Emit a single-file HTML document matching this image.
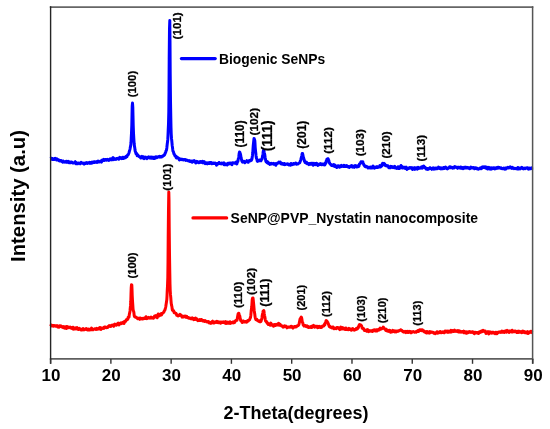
<!DOCTYPE html>
<html><head><meta charset="utf-8"><style>html,body{margin:0;padding:0;background:#fff;overflow:hidden}svg{display:block;filter:blur(0.3px)}</style></head>
<body><svg width="550" height="429" viewBox="0 0 550 429">
<rect width="550" height="429" fill="#fff"/>
<path d="M50.5 158.6L50.8 158.7L51.0 158.4L51.2 158.2L51.5 158.2L51.8 158.3L52.0 158.9L52.2 159.4L52.5 158.9L52.8 158.8L53.0 159.2L53.2 159.4L53.5 159.1L53.8 158.9L54.0 159.2L54.2 159.4L54.5 158.9L54.8 158.6L55.0 158.4L55.2 158.3L55.5 158.6L55.8 159.0L56.0 159.3L56.2 159.7L56.5 160.0L56.8 159.4L57.0 158.8L57.2 159.3L57.5 160.0L57.8 159.9L58.0 159.5L58.2 159.6L58.5 159.7L58.8 160.1L59.0 160.6L59.2 160.4L59.5 160.6L59.8 160.9L60.0 160.6L60.2 160.6L60.5 160.8L60.8 160.7L61.0 160.5L61.2 161.0L61.5 161.3L61.8 160.9L62.0 161.2L62.2 161.3L62.5 161.4L62.8 162.1L63.0 161.8L63.2 161.0L63.5 161.3L63.8 161.6L64.0 161.6L64.2 161.7L64.5 161.8L64.8 162.1L65.0 162.2L65.2 161.7L65.5 161.5L65.8 161.6L66.0 161.5L66.2 161.2L66.5 161.3L66.8 161.8L67.0 162.4L67.2 162.3L67.5 161.5L67.8 161.5L68.0 161.7L68.2 161.3L68.5 161.5L68.8 162.2L69.0 162.7L69.2 162.6L69.5 162.1L69.8 162.0L70.0 162.4L70.2 162.8L70.5 162.4L70.8 162.2L71.0 162.4L71.2 162.4L71.5 162.1L71.8 162.0L72.0 162.2L72.2 162.6L72.5 163.1L72.8 163.1L73.0 162.9L73.2 162.9L73.5 162.9L73.8 163.1L74.0 163.1L74.2 162.8L74.5 162.5L74.8 162.4L75.0 161.9L75.2 161.7L75.5 162.3L75.8 162.6L76.0 163.4L76.2 163.8L76.5 163.1L76.8 162.8L77.0 163.2L77.2 163.4L77.5 163.2L77.8 163.3L78.0 163.6L78.2 163.5L78.5 163.0L78.8 163.2L79.0 163.2L79.2 163.1L79.5 163.2L79.8 163.4L80.0 163.7L80.2 163.8L80.5 163.4L80.8 163.2L81.0 162.9L81.2 162.4L81.5 162.7L81.8 163.0L82.0 162.8L82.2 163.0L82.5 163.0L82.8 163.2L83.0 163.4L83.2 163.5L83.5 163.3L83.8 163.0L84.0 163.8L84.2 164.1L84.5 163.5L84.8 163.1L85.0 163.0L85.2 163.1L85.5 163.4L85.8 163.2L86.0 162.9L86.2 162.8L86.5 162.5L86.8 162.8L87.0 163.4L87.2 163.5L87.5 163.5L87.8 163.2L88.0 162.8L88.2 162.7L88.5 162.8L88.8 162.9L89.0 162.9L89.2 162.6L89.5 162.3L89.8 162.8L90.0 163.4L90.2 162.8L90.5 162.5L90.8 163.2L91.0 163.3L91.2 162.6L91.5 162.4L91.8 162.2L92.0 162.1L92.2 162.7L92.5 162.9L92.8 162.5L93.0 162.4L93.2 162.5L93.5 162.4L93.8 162.1L94.0 161.7L94.2 161.9L94.5 162.5L94.8 162.4L95.0 162.2L95.2 162.1L95.5 161.8L95.8 161.9L96.0 162.1L96.2 161.9L96.5 161.7L96.8 162.0L97.0 162.4L97.2 162.3L97.5 161.8L97.8 161.2L98.0 161.1L98.2 161.8L98.5 162.0L98.8 161.6L99.0 161.7L99.2 161.9L99.5 161.9L99.8 161.6L100.0 161.4L100.2 161.3L100.5 161.0L100.8 161.2L101.0 161.5L101.2 161.7L101.5 162.1L101.8 161.6L102.0 160.3L102.2 160.0L102.5 160.5L102.8 160.4L103.0 160.6L103.2 160.6L103.5 159.7L103.8 159.4L104.0 160.2L104.2 160.5L104.5 160.4L104.8 160.2L105.0 159.7L105.2 159.5L105.5 159.7L105.8 159.5L106.0 159.5L106.2 160.0L106.5 160.3L106.8 160.1L107.0 159.6L107.2 159.4L107.5 159.3L107.8 159.4L108.0 159.7L108.2 159.7L108.5 159.9L108.8 160.4L109.0 160.4L109.2 159.7L109.5 159.7L109.8 159.8L110.0 159.3L110.2 158.9L110.5 159.2L110.8 159.7L111.0 159.6L111.2 159.4L111.5 159.6L111.8 159.8L112.0 159.2L112.2 158.3L112.5 158.2L112.8 157.7L113.0 157.5L113.2 158.6L113.5 159.6L113.8 159.2L114.0 158.5L114.2 158.7L114.5 159.4L114.8 159.3L115.0 159.1L115.2 159.0L115.5 159.1L115.8 159.4L116.0 159.3L116.2 158.8L116.5 158.6L116.8 158.6L117.0 158.8L117.2 158.8L117.5 158.4L117.8 158.3L118.0 158.3L118.2 158.4L118.5 159.2L118.8 159.3L119.0 158.7L119.2 158.7L119.5 158.2L119.8 157.4L120.0 157.9L120.2 158.3L120.5 158.0L120.8 157.7L121.0 157.8L121.2 158.2L121.5 158.6L121.8 158.4L122.0 158.3L122.2 158.4L122.5 157.9L122.8 157.2L123.0 157.3L123.2 158.2L123.5 158.5L123.8 158.3L124.0 158.0L124.2 157.7L124.5 157.4L124.8 157.2L125.0 157.1L125.2 157.4L125.5 157.7L125.8 157.4L126.0 156.7L126.2 156.2L126.5 156.3L126.8 156.8L127.0 156.5L127.2 155.8L127.5 155.2L127.8 154.7L128.0 154.8L128.2 154.8L128.5 154.0L128.8 153.3L129.0 152.8L129.2 151.9L129.5 150.8L129.8 149.9L130.0 149.1L130.2 148.0L130.5 146.4L130.8 144.9L131.0 142.7L131.2 138.7L131.5 133.1L131.8 125.4L132.0 115.3L132.2 106.1L132.5 103.1L132.8 107.3L133.0 115.7L133.2 125.1L133.5 133.0L133.8 138.3L134.0 141.3L134.2 144.0L134.5 146.4L134.8 148.0L135.0 149.8L135.2 151.2L135.5 151.8L135.8 152.8L136.0 153.7L136.2 153.6L136.5 153.3L136.8 153.7L137.0 154.7L137.2 155.8L137.5 155.8L137.8 155.2L138.0 155.1L138.2 155.7L138.5 156.1L138.8 156.3L139.0 156.5L139.2 156.7L139.5 156.6L139.8 156.7L140.0 156.9L140.2 157.0L140.5 157.6L140.8 158.0L141.0 157.8L141.2 157.0L141.5 156.7L141.8 156.7L142.0 156.4L142.2 156.6L142.5 157.6L142.8 157.9L143.0 157.2L143.2 156.7L143.5 156.9L143.8 157.3L144.0 158.1L144.2 158.7L144.5 158.0L144.8 157.1L145.0 157.0L145.2 157.4L145.5 157.4L145.8 157.2L146.0 157.3L146.2 157.5L146.5 158.1L146.8 158.6L147.0 158.3L147.2 157.9L147.5 157.8L147.8 157.7L148.0 157.5L148.2 157.3L148.5 156.9L148.8 157.1L149.0 157.7L149.2 157.9L149.5 158.0L149.8 157.9L150.0 157.1L150.2 157.1L150.5 157.7L150.8 157.9L151.0 157.9L151.2 158.1L151.5 157.8L151.8 157.1L152.0 157.3L152.2 157.9L152.5 157.7L152.8 157.3L153.0 158.0L153.2 158.5L153.5 158.3L153.8 157.7L154.0 157.2L154.2 157.6L154.5 158.4L154.8 158.4L155.0 158.1L155.2 157.7L155.5 157.2L155.8 156.8L156.0 157.2L156.2 157.6L156.5 157.4L156.8 157.7L157.0 157.6L157.2 157.0L157.5 156.9L157.8 157.1L158.0 157.1L158.2 156.9L158.5 156.8L158.8 156.7L159.0 156.5L159.2 156.4L159.5 157.0L159.8 157.1L160.0 156.6L160.2 156.5L160.5 156.4L160.8 156.5L161.0 156.8L161.2 157.0L161.5 157.0L161.8 156.6L162.0 156.5L162.2 156.2L162.5 156.1L162.8 156.2L163.0 156.2L163.2 156.1L163.5 155.6L163.8 155.1L164.0 155.1L164.2 155.3L164.5 155.0L164.8 154.3L165.0 153.6L165.2 153.1L165.5 152.8L165.8 151.9L166.0 150.8L166.2 150.7L166.5 150.0L166.8 148.0L167.0 146.1L167.2 144.3L167.5 142.1L167.8 139.4L168.0 135.4L168.2 130.5L168.5 123.8L168.8 112.0L169.0 90.9L169.2 59.3L169.5 28.9L169.8 20.5L170.0 40.8L170.2 73.6L170.5 101.0L170.8 117.9L171.0 127.3L171.2 133.8L171.5 138.4L171.8 141.0L172.0 143.1L172.2 145.4L172.5 147.6L172.8 149.9L173.0 151.2L173.2 151.5L173.5 152.0L173.8 153.4L174.0 154.1L174.2 154.0L174.5 154.7L174.8 155.5L175.0 156.0L175.2 156.0L175.5 156.0L175.8 156.0L176.0 156.7L176.2 157.8L176.5 158.0L176.8 157.5L177.0 157.0L177.2 157.0L177.5 157.6L177.8 158.1L178.0 158.3L178.2 158.2L178.5 158.1L178.8 158.4L179.0 159.0L179.2 159.7L179.5 159.9L179.8 159.2L180.0 158.8L180.2 158.9L180.5 158.9L180.8 158.9L181.0 159.0L181.2 159.2L181.5 159.6L181.8 159.7L182.0 159.7L182.2 159.6L182.5 159.3L182.8 159.3L183.0 159.5L183.2 159.7L183.5 160.0L183.8 159.8L184.0 159.6L184.2 159.6L184.5 159.6L184.8 159.7L185.0 159.6L185.2 159.5L185.5 160.0L185.8 160.5L186.0 160.4L186.2 160.3L186.5 160.1L186.8 160.1L187.0 160.2L187.2 160.4L187.5 160.4L187.8 160.4L188.0 160.7L188.2 160.9L188.5 160.8L188.8 160.9L189.0 160.8L189.2 160.6L189.5 161.0L189.8 161.4L190.0 161.4L190.2 161.3L190.5 161.0L190.8 161.2L191.0 161.6L191.2 161.7L191.5 161.2L191.8 161.0L192.0 161.6L192.2 162.3L192.5 162.2L192.8 161.5L193.0 161.2L193.2 161.7L193.5 161.3L193.8 160.7L194.0 161.1L194.2 161.0L194.5 160.8L194.8 161.5L195.0 162.1L195.2 162.0L195.5 162.2L195.8 163.0L196.0 162.9L196.2 162.2L196.5 161.6L196.8 161.3L197.0 161.6L197.2 162.1L197.5 162.3L197.8 162.4L198.0 162.3L198.2 162.0L198.5 162.1L198.8 162.5L199.0 162.8L199.2 162.8L199.5 162.5L199.8 162.3L200.0 162.1L200.2 161.6L200.5 161.6L200.8 162.2L201.0 162.5L201.2 162.1L201.5 161.7L201.8 161.8L202.0 161.9L202.2 161.5L202.5 161.3L202.8 162.1L203.0 162.9L203.2 162.7L203.5 162.4L203.8 162.6L204.0 162.3L204.2 161.6L204.5 162.1L204.8 163.0L205.0 163.4L205.2 163.7L205.5 163.6L205.8 163.1L206.0 163.1L206.2 163.0L206.5 162.7L206.8 162.9L207.0 163.6L207.2 163.8L207.5 163.2L207.8 162.9L208.0 163.3L208.2 163.5L208.5 163.5L208.8 163.4L209.0 162.9L209.2 162.7L209.5 163.1L209.8 163.5L210.0 163.4L210.2 162.5L210.5 162.5L210.8 163.0L211.0 162.7L211.2 162.6L211.5 163.4L211.8 163.7L212.0 163.4L212.2 163.4L212.5 163.5L212.8 163.6L213.0 163.5L213.2 163.0L213.5 162.9L213.8 163.1L214.0 163.3L214.2 163.6L214.5 163.5L214.8 163.1L215.0 163.2L215.2 163.5L215.5 163.7L215.8 163.3L216.0 163.4L216.2 164.4L216.5 165.1L216.8 164.8L217.0 164.0L217.2 163.9L217.5 164.2L217.8 163.6L218.0 163.2L218.2 163.5L218.5 163.6L218.8 163.0L219.0 162.5L219.2 162.8L219.5 163.4L219.8 163.4L220.0 163.4L220.2 163.8L220.5 163.8L220.8 163.7L221.0 163.6L221.2 163.3L221.5 163.1L221.8 163.4L222.0 163.9L222.2 163.7L222.5 163.3L222.8 163.3L223.0 163.6L223.2 163.6L223.5 163.0L223.8 162.9L224.0 163.8L224.2 164.8L224.5 164.6L224.8 164.0L225.0 164.4L225.2 164.6L225.5 164.0L225.8 163.8L226.0 164.2L226.2 164.3L226.5 164.0L226.8 164.0L227.0 164.7L227.2 164.9L227.5 164.4L227.8 163.7L228.0 163.2L228.2 163.6L228.5 163.9L228.8 164.0L229.0 164.0L229.2 163.4L229.5 163.1L229.8 163.4L230.0 163.5L230.2 163.3L230.5 163.4L230.8 163.0L231.0 163.0L231.2 163.8L231.5 164.3L231.8 164.6L232.0 164.7L232.2 163.7L232.5 162.8L232.8 162.7L233.0 162.9L233.2 163.2L233.5 163.1L233.8 162.8L234.0 162.9L234.2 162.9L234.5 163.2L234.8 163.3L235.0 163.1L235.2 163.0L235.5 162.7L235.8 162.3L236.0 162.1L236.2 162.8L236.5 163.8L236.8 164.0L237.0 163.4L237.2 162.5L237.5 161.8L237.8 161.6L238.0 160.7L238.2 159.3L238.5 158.0L238.8 156.5L239.0 154.9L239.2 153.3L239.5 152.0L239.8 152.1L240.0 153.0L240.2 153.4L240.5 154.3L240.8 156.1L241.0 157.4L241.2 158.2L241.5 159.5L241.8 160.8L242.0 161.3L242.2 161.7L242.5 162.1L242.8 161.8L243.0 161.6L243.2 162.0L243.5 162.0L243.8 161.3L244.0 161.2L244.2 161.8L244.5 162.3L244.8 162.6L245.0 162.3L245.2 161.8L245.5 161.9L245.8 161.8L246.0 161.7L246.2 161.8L246.5 161.2L246.8 160.7L247.0 160.9L247.2 161.0L247.5 161.2L247.8 161.8L248.0 162.2L248.2 162.3L248.5 161.5L248.8 160.7L249.0 160.7L249.2 160.6L249.5 160.7L249.8 161.0L250.0 160.6L250.2 160.2L250.5 160.7L250.8 160.8L251.0 160.6L251.2 160.4L251.5 159.9L251.8 159.4L252.0 158.6L252.2 157.2L252.5 155.2L252.8 152.5L253.0 149.1L253.2 146.1L253.5 143.2L253.8 140.3L254.0 138.6L254.2 138.7L254.5 139.5L254.8 140.7L255.0 143.5L255.2 147.3L255.5 150.6L255.8 153.2L256.0 155.4L256.2 157.1L256.5 158.3L256.8 159.0L257.0 159.8L257.2 161.0L257.5 161.4L257.8 160.6L258.0 160.2L258.2 160.6L258.5 160.9L258.8 160.6L259.0 160.7L259.2 160.8L259.5 160.6L259.8 160.5L260.0 160.4L260.2 159.9L260.5 160.0L260.8 160.6L261.0 160.8L261.2 160.2L261.5 159.4L261.8 159.2L262.0 159.2L262.2 158.1L262.5 156.3L262.8 154.7L263.0 153.4L263.2 151.7L263.5 150.2L263.8 150.3L264.0 151.2L264.2 152.3L264.5 153.5L264.8 154.9L265.0 156.4L265.2 157.7L265.5 159.3L265.8 161.1L266.0 161.5L266.2 161.3L266.5 161.7L266.8 162.4L267.0 162.7L267.2 162.1L267.5 161.7L267.8 162.2L268.0 162.8L268.2 163.2L268.5 163.6L268.8 163.6L269.0 163.3L269.2 163.1L269.5 163.8L269.8 164.4L270.0 164.1L270.2 163.7L270.5 163.9L270.8 164.0L271.0 163.5L271.2 163.4L271.5 163.9L271.8 164.0L272.0 163.7L272.2 163.7L272.5 163.7L272.8 163.8L273.0 163.6L273.2 163.4L273.5 163.8L273.8 164.1L274.0 163.7L274.2 163.8L274.5 163.9L274.8 163.7L275.0 163.6L275.2 163.7L275.5 164.5L275.8 165.3L276.0 164.9L276.2 164.1L276.5 163.8L276.8 163.6L277.0 163.6L277.2 163.4L277.5 162.9L277.8 162.9L278.0 163.1L278.2 163.1L278.5 162.7L278.8 162.2L279.0 162.5L279.2 162.7L279.5 162.7L279.8 162.6L280.0 162.1L280.2 162.0L280.5 163.0L280.8 163.6L281.0 163.5L281.2 163.7L281.5 163.9L281.8 163.6L282.0 163.4L282.2 163.9L282.5 164.1L282.8 163.9L283.0 164.1L283.2 163.8L283.5 163.8L283.8 164.4L284.0 164.1L284.2 163.5L284.5 163.9L284.8 164.7L285.0 164.7L285.2 164.3L285.5 164.4L285.8 164.4L286.0 164.1L286.2 164.2L286.5 164.1L286.8 163.9L287.0 163.9L287.2 164.1L287.5 164.1L287.8 163.9L288.0 164.1L288.2 164.6L288.5 164.6L288.8 164.8L289.0 164.9L289.2 165.1L289.5 165.0L289.8 164.4L290.0 164.2L290.2 164.5L290.5 165.1L290.8 164.8L291.0 163.5L291.2 163.5L291.5 164.3L291.8 164.7L292.0 164.5L292.2 164.3L292.5 164.4L292.8 164.4L293.0 164.4L293.2 164.0L293.5 163.5L293.8 163.6L294.0 163.9L294.2 164.1L294.5 163.9L294.8 163.6L295.0 163.7L295.2 163.5L295.5 163.1L295.8 163.1L296.0 163.6L296.2 164.2L296.5 164.3L296.8 164.1L297.0 164.1L297.2 163.9L297.5 163.7L297.8 164.0L298.0 164.0L298.2 163.5L298.5 163.2L298.8 163.2L299.0 163.0L299.2 162.8L299.5 162.9L299.8 162.6L300.0 162.0L300.2 161.3L300.5 160.8L300.8 159.9L301.0 158.9L301.2 158.1L301.5 156.9L301.8 155.8L302.0 154.6L302.2 153.4L302.5 153.5L302.8 154.5L303.0 155.6L303.2 156.8L303.5 157.6L303.8 158.5L304.0 159.4L304.2 160.3L304.5 161.3L304.8 161.8L305.0 162.1L305.2 162.6L305.5 162.8L305.8 162.2L306.0 162.0L306.2 162.1L306.5 162.2L306.8 163.0L307.0 163.7L307.2 163.6L307.5 163.4L307.8 163.3L308.0 163.4L308.2 163.6L308.5 163.7L308.8 164.3L309.0 164.6L309.2 164.2L309.5 163.6L309.8 163.5L310.0 163.8L310.2 164.0L310.5 164.1L310.8 164.3L311.0 164.1L311.2 163.3L311.5 163.5L311.8 164.1L312.0 163.7L312.2 163.4L312.5 163.3L312.8 163.3L313.0 164.2L313.2 165.2L313.5 164.7L313.8 163.6L314.0 163.4L314.2 163.9L314.5 164.2L314.8 163.8L315.0 163.9L315.2 164.5L315.5 164.6L315.8 164.0L316.0 163.4L316.2 163.3L316.5 163.2L316.8 163.4L317.0 164.0L317.2 164.3L317.5 164.8L317.8 165.4L318.0 165.0L318.2 164.4L318.5 164.8L318.8 164.9L319.0 164.2L319.2 163.9L319.5 163.9L319.8 164.1L320.0 164.3L320.2 163.7L320.5 163.6L320.8 164.2L321.0 164.5L321.2 164.7L321.5 164.7L321.8 164.8L322.0 164.6L322.2 164.0L322.5 164.1L322.8 164.4L323.0 164.6L323.2 164.5L323.5 164.1L323.8 164.2L324.0 164.6L324.2 164.4L324.5 164.2L324.8 164.9L325.0 164.5L325.2 163.0L325.5 162.9L325.8 163.3L326.0 162.4L326.2 161.2L326.5 160.2L326.8 159.6L327.0 159.1L327.2 159.0L327.5 159.1L327.8 158.9L328.0 158.7L328.2 159.0L328.5 159.7L328.8 160.3L329.0 161.3L329.2 162.4L329.5 163.0L329.8 163.4L330.0 163.8L330.2 164.0L330.5 164.2L330.8 164.6L331.0 164.9L331.2 165.0L331.5 165.5L331.8 165.4L332.0 165.0L332.2 165.0L332.5 165.2L332.8 165.3L333.0 165.6L333.2 165.8L333.5 165.1L333.8 164.5L334.0 164.6L334.2 164.8L334.5 165.6L334.8 166.4L335.0 166.1L335.2 165.3L335.5 165.7L335.8 166.6L336.0 166.5L336.2 166.3L336.5 166.9L336.8 167.5L337.0 167.1L337.2 166.5L337.5 166.4L337.8 166.4L338.0 165.8L338.2 165.7L338.5 165.8L338.8 165.9L339.0 166.1L339.2 166.8L339.5 167.1L339.8 166.4L340.0 166.1L340.2 166.3L340.5 166.7L340.8 166.8L341.0 166.2L341.2 165.6L341.5 165.4L341.8 165.8L342.0 166.4L342.2 166.3L342.5 165.9L342.8 166.0L343.0 166.4L343.2 166.5L343.5 166.2L343.8 165.8L344.0 165.4L344.2 165.9L344.5 166.4L344.8 165.8L345.0 165.9L345.2 166.4L345.5 166.2L345.8 166.0L346.0 166.2L346.2 166.4L346.5 166.0L346.8 165.6L347.0 165.8L347.2 166.0L347.5 166.1L347.8 166.6L348.0 166.9L348.2 166.8L348.5 166.6L348.8 167.0L349.0 167.4L349.2 167.4L349.5 167.2L349.8 166.7L350.0 166.5L350.2 166.5L350.5 166.1L350.8 166.2L351.0 166.2L351.2 165.9L351.5 165.5L351.8 165.8L352.0 166.5L352.2 167.0L352.5 167.1L352.8 166.6L353.0 166.2L353.2 166.2L353.5 166.5L353.8 166.6L354.0 167.1L354.2 167.3L354.5 166.6L354.8 165.7L355.0 165.6L355.2 165.5L355.5 166.0L355.8 166.8L356.0 166.5L356.2 166.1L356.5 166.7L356.8 167.0L357.0 166.4L357.2 165.9L357.5 166.0L357.8 166.3L358.0 166.6L358.2 166.7L358.5 166.6L358.8 166.4L359.0 166.0L359.2 165.0L359.5 163.9L359.8 163.7L360.0 163.6L360.2 163.2L360.5 162.9L360.8 162.2L361.0 161.8L361.2 162.3L361.5 162.3L361.8 162.1L362.0 162.5L362.2 162.8L362.5 162.3L362.8 161.8L363.0 162.5L363.2 163.2L363.5 163.8L363.8 164.8L364.0 165.4L364.2 165.2L364.5 165.5L364.8 166.4L365.0 166.1L365.2 165.8L365.5 166.4L365.8 166.7L366.0 166.7L366.2 166.9L366.5 166.6L366.8 166.5L367.0 167.0L367.2 167.2L367.5 167.0L367.8 167.0L368.0 167.6L368.2 168.0L368.5 167.6L368.8 167.5L369.0 167.3L369.2 167.2L369.5 167.6L369.8 167.9L370.0 167.9L370.2 167.4L370.5 166.9L370.8 166.9L371.0 167.4L371.2 167.8L371.5 168.0L371.8 167.9L372.0 168.0L372.2 168.0L372.5 167.3L372.8 166.4L373.0 166.1L373.2 166.7L373.5 167.4L373.8 167.4L374.0 167.6L374.2 168.0L374.5 168.2L374.8 167.9L375.0 167.3L375.2 167.1L375.5 167.2L375.8 167.2L376.0 167.0L376.2 167.4L376.5 167.5L376.8 166.9L377.0 166.7L377.2 166.9L377.5 167.2L377.8 167.5L378.0 167.4L378.2 167.1L378.5 166.8L378.8 167.0L379.0 167.1L379.2 167.1L379.5 166.5L379.8 165.6L380.0 165.9L380.2 166.7L380.5 167.0L380.8 166.6L381.0 165.7L381.2 165.4L381.5 165.9L381.8 166.0L382.0 164.9L382.2 163.9L382.5 163.4L382.8 164.3L383.0 164.9L383.2 164.4L383.5 164.0L383.8 163.6L384.0 163.4L384.2 163.8L384.5 163.7L384.8 164.0L385.0 164.9L385.2 165.4L385.5 165.7L385.8 165.7L386.0 165.4L386.2 165.5L386.5 165.9L386.8 166.0L387.0 165.7L387.2 165.9L387.5 166.0L387.8 165.8L388.0 165.8L388.2 166.2L388.5 166.9L388.8 167.7L389.0 167.7L389.2 166.8L389.5 166.8L389.8 167.4L390.0 167.2L390.2 167.4L390.5 167.7L390.8 167.2L391.0 166.4L391.2 166.5L391.5 167.2L391.8 167.2L392.0 166.6L392.2 166.7L392.5 167.4L392.8 167.5L393.0 167.3L393.2 167.6L393.5 167.3L393.8 166.7L394.0 167.0L394.2 167.4L394.5 166.8L394.8 166.4L395.0 167.0L395.2 168.0L395.5 167.8L395.8 167.4L396.0 167.9L396.2 167.8L396.5 167.9L396.8 168.4L397.0 168.2L397.2 167.5L397.5 167.2L397.8 167.3L398.0 166.8L398.2 166.8L398.5 168.1L398.8 168.5L399.0 167.9L399.2 167.5L399.5 167.8L399.8 168.3L400.0 167.9L400.2 167.0L400.5 166.3L400.8 166.0L401.0 165.5L401.2 165.7L401.5 166.3L401.8 166.4L402.0 166.6L402.2 167.3L402.5 168.1L402.8 168.1L403.0 167.8L403.2 167.7L403.5 167.3L403.8 167.5L404.0 167.7L404.2 167.4L404.5 167.2L404.8 167.3L405.0 168.0L405.2 168.5L405.5 168.1L405.8 167.8L406.0 167.5L406.2 167.2L406.5 167.6L406.8 168.9L407.0 169.4L407.2 168.6L407.5 168.1L407.8 168.2L408.0 168.3L408.2 168.5L408.5 168.5L408.8 168.5L409.0 168.4L409.2 168.0L409.5 167.6L409.8 167.4L410.0 167.5L410.2 167.6L410.5 167.8L410.8 167.9L411.0 168.3L411.2 168.3L411.5 167.7L411.8 167.6L412.0 168.0L412.2 168.9L412.5 169.4L412.8 169.0L413.0 168.8L413.2 168.7L413.5 168.4L413.8 168.6L414.0 167.9L414.2 167.7L414.5 169.3L414.8 169.4L415.0 168.4L415.2 168.3L415.5 168.4L415.8 168.1L416.0 167.7L416.2 168.0L416.5 168.5L416.8 168.8L417.0 169.0L417.2 169.2L417.5 169.2L417.8 168.6L418.0 168.0L418.2 167.4L418.5 167.8L418.8 168.4L419.0 168.3L419.2 168.3L419.5 168.1L419.8 167.7L420.0 167.7L420.2 167.7L420.5 167.8L420.8 168.2L421.0 168.0L421.2 167.2L421.5 166.9L421.8 167.1L422.0 167.2L422.2 167.7L422.5 168.1L422.8 167.5L423.0 166.7L423.2 166.4L423.5 166.1L423.8 166.1L424.0 166.3L424.2 166.7L424.5 167.2L424.8 167.6L425.0 167.6L425.2 167.4L425.5 167.7L425.8 168.5L426.0 169.0L426.2 169.1L426.5 169.2L426.8 168.9L427.0 168.6L427.2 169.0L427.5 169.3L427.8 168.6L428.0 168.8L428.2 169.3L428.5 168.9L428.8 168.9L429.0 168.8L429.2 168.4L429.5 168.1L429.8 167.9L430.0 167.7L430.2 167.9L430.5 168.1L430.8 168.4L431.0 168.2L431.2 168.2L431.5 169.0L431.8 169.3L432.0 168.7L432.2 168.3L432.5 168.3L432.8 168.6L433.0 168.2L433.2 167.8L433.5 168.8L433.8 169.2L434.0 168.3L434.2 168.4L434.5 168.6L434.8 168.6L435.0 168.5L435.2 168.1L435.5 168.4L435.8 168.8L436.0 168.4L436.2 168.0L436.5 168.1L436.8 168.4L437.0 168.6L437.2 168.3L437.5 168.1L437.8 168.0L438.0 168.2L438.2 167.8L438.5 167.1L438.8 167.4L439.0 167.7L439.2 168.1L439.5 168.5L439.8 167.8L440.0 167.8L440.2 168.6L440.5 168.8L440.8 168.9L441.0 168.4L441.2 167.8L441.5 168.2L441.8 168.8L442.0 168.8L442.2 168.3L442.5 168.1L442.8 167.9L443.0 168.2L443.2 168.7L443.5 168.2L443.8 167.5L444.0 167.8L444.2 168.4L444.5 168.4L444.8 167.9L445.0 167.7L445.2 167.5L445.5 167.0L445.8 167.3L446.0 167.9L446.2 168.0L446.5 168.2L446.8 168.6L447.0 168.4L447.2 168.5L447.5 168.9L447.8 168.5L448.0 168.0L448.2 168.2L448.5 168.0L448.8 167.6L449.0 167.7L449.2 167.4L449.5 166.9L449.8 167.3L450.0 167.6L450.2 167.2L450.5 166.9L450.8 167.3L451.0 167.7L451.2 167.6L451.5 167.4L451.8 167.5L452.0 167.3L452.2 167.6L452.5 168.1L452.8 167.6L453.0 167.6L453.2 167.9L453.5 167.7L453.8 167.5L454.0 167.9L454.2 167.7L454.5 166.8L454.8 166.6L455.0 166.8L455.2 166.8L455.5 166.8L455.8 167.1L456.0 167.3L456.2 167.3L456.5 167.5L456.8 167.6L457.0 167.4L457.2 167.8L457.5 168.3L457.8 167.9L458.0 167.3L458.2 167.2L458.5 167.2L458.8 167.7L459.0 167.8L459.2 167.4L459.5 167.6L459.8 167.9L460.0 167.7L460.2 167.4L460.5 167.1L460.8 167.0L461.0 167.7L461.2 168.4L461.5 167.9L461.8 167.3L462.0 167.4L462.2 167.7L462.5 168.0L462.8 168.4L463.0 168.7L463.2 168.6L463.5 168.5L463.8 168.4L464.0 167.9L464.2 167.4L464.5 167.5L464.8 167.8L465.0 167.4L465.2 167.2L465.5 167.8L465.8 167.9L466.0 167.7L466.2 167.8L466.5 167.9L466.8 167.9L467.0 167.4L467.2 167.5L467.5 168.0L467.8 168.1L468.0 167.9L468.2 167.6L468.5 167.7L468.8 168.2L469.0 168.4L469.2 168.3L469.5 168.8L469.8 168.8L470.0 168.4L470.2 168.2L470.5 167.5L470.8 167.0L471.0 167.3L471.2 167.8L471.5 168.0L471.8 168.1L472.0 167.9L472.2 167.6L472.5 167.9L472.8 167.8L473.0 167.8L473.2 167.9L473.5 167.6L473.8 167.5L474.0 167.8L474.2 168.4L474.5 168.8L474.8 168.6L475.0 168.0L475.2 167.8L475.5 168.0L475.8 168.1L476.0 168.0L476.2 168.5L476.5 168.4L476.8 168.1L477.0 168.6L477.2 169.0L477.5 169.0L477.8 169.0L478.0 169.0L478.2 169.2L478.5 169.2L478.8 168.9L479.0 169.0L479.2 168.8L479.5 168.3L479.8 168.0L480.0 168.2L480.2 168.3L480.5 168.1L480.8 168.4L481.0 168.6L481.2 167.9L481.5 167.3L481.8 167.7L482.0 168.1L482.2 167.7L482.5 167.2L482.8 166.9L483.0 167.2L483.2 167.5L483.5 167.2L483.8 166.9L484.0 167.1L484.2 167.4L484.5 167.3L484.8 166.9L485.0 167.3L485.2 167.9L485.5 167.3L485.8 166.9L486.0 167.1L486.2 167.4L486.5 168.4L486.8 168.6L487.0 167.6L487.2 167.4L487.5 168.4L487.8 169.0L488.0 168.9L488.2 168.6L488.5 168.1L488.8 167.7L489.0 167.4L489.2 167.6L489.5 168.2L489.8 168.6L490.0 169.0L490.2 168.6L490.5 168.2L490.8 168.8L491.0 169.2L491.2 168.6L491.5 167.9L491.8 168.4L492.0 168.8L492.2 168.2L492.5 168.0L492.8 168.5L493.0 168.3L493.2 167.7L493.5 167.7L493.8 167.9L494.0 168.2L494.2 168.5L494.5 168.8L494.8 168.4L495.0 167.8L495.2 168.2L495.5 168.7L495.8 168.8L496.0 168.6L496.2 168.0L496.5 167.9L496.8 168.2L497.0 167.5L497.2 167.3L497.5 168.0L497.8 168.1L498.0 167.6L498.2 167.3L498.5 167.2L498.8 167.4L499.0 167.9L499.2 167.8L499.5 167.5L499.8 167.8L500.0 167.7L500.2 167.7L500.5 168.2L500.8 168.0L501.0 167.9L501.2 168.5L501.5 168.3L501.8 168.2L502.0 168.6L502.2 168.7L502.5 168.5L502.8 168.4L503.0 168.3L503.2 168.3L503.5 168.0L503.8 168.3L504.0 168.9L504.2 168.7L504.5 168.8L504.8 169.2L505.0 168.6L505.2 168.1L505.5 168.1L505.8 168.1L506.0 168.6L506.2 168.8L506.5 168.1L506.8 167.8L507.0 168.1L507.2 168.0L507.5 167.8L507.8 167.7L508.0 167.3L508.2 167.4L508.5 167.7L508.8 167.9L509.0 167.8L509.2 167.6L509.5 167.8L509.8 167.7L510.0 167.2L510.2 166.8L510.5 167.0L510.8 167.4L511.0 167.3L511.2 167.7L511.5 168.2L511.8 168.5L512.0 168.4L512.2 167.6L512.5 167.3L512.8 167.9L513.0 168.2L513.2 168.2L513.5 168.2L513.8 168.5L514.0 168.6L514.2 168.4L514.5 168.4L514.8 168.3L515.0 168.2L515.2 168.4L515.5 168.4L515.8 168.4L516.0 168.7L516.2 168.6L516.5 168.5L516.8 168.3L517.0 168.5L517.2 168.9L517.5 168.2L517.8 167.5L518.0 167.6L518.2 168.4L518.5 169.0L518.8 168.9L519.0 168.4L519.2 168.1L519.5 168.3L519.8 168.9L520.0 168.9L520.2 168.4L520.5 168.4L520.8 168.2L521.0 167.8L521.2 167.9L521.5 167.6L521.8 167.3L522.0 168.1L522.2 168.4L522.5 167.8L522.8 167.9L523.0 168.6L523.2 168.8L523.5 168.9L523.8 168.8L524.0 168.4L524.2 168.3L524.5 168.2L524.8 168.1L525.0 168.1L525.2 168.3L525.5 168.6L525.8 168.4L526.0 168.0L526.2 168.0L526.5 168.0L526.8 167.7L527.0 167.7L527.2 167.9L527.5 167.8L527.8 167.8L528.0 168.2L528.2 169.0L528.5 169.1L528.8 168.5L529.0 168.6L529.2 169.0L529.5 168.6L529.8 168.1L530.0 168.2L530.2 168.5L530.5 168.7L530.8 168.7L531.0 168.7L531.2 168.2L531.5 167.9L531.8 168.1L532.0 168.5L532.2 168.2L532.5 167.9" fill="none" stroke="#0000ff" stroke-width="3.0" stroke-linejoin="round"/>
<path d="M50.5 326.3L50.8 326.2L51.0 325.4L51.2 325.1L51.5 325.1L51.8 325.5L52.0 325.7L52.2 325.5L52.5 325.4L52.8 325.4L53.0 325.6L53.2 326.3L53.5 326.3L53.8 325.5L54.0 325.5L54.2 325.9L54.5 326.0L54.8 325.8L55.0 325.6L55.2 325.8L55.5 326.2L55.8 326.3L56.0 326.2L56.2 326.3L56.5 325.9L56.8 325.7L57.0 326.3L57.2 326.5L57.5 326.6L57.8 327.0L58.0 326.9L58.2 326.1L58.5 326.2L58.8 327.2L59.0 327.2L59.2 326.3L59.5 325.8L59.8 326.0L60.0 326.0L60.2 325.9L60.5 326.1L60.8 325.9L61.0 326.2L61.2 326.7L61.5 326.7L61.8 326.8L62.0 327.2L62.2 327.2L62.5 326.9L62.8 326.7L63.0 327.0L63.2 327.6L63.5 327.4L63.8 326.7L64.0 327.0L64.2 327.5L64.5 327.8L64.8 328.2L65.0 328.0L65.2 327.2L65.5 326.8L65.8 326.8L66.0 327.2L66.2 328.0L66.5 328.5L66.8 327.5L67.0 326.5L67.2 326.8L67.5 327.1L67.8 326.8L68.0 326.9L68.2 327.3L68.5 327.6L68.8 327.4L69.0 327.4L69.2 327.7L69.5 327.6L69.8 327.2L70.0 327.0L70.2 327.3L70.5 327.6L70.8 327.3L71.0 327.7L71.2 328.1L71.5 328.0L71.8 327.8L72.0 327.9L72.2 328.6L72.5 328.8L72.8 328.1L73.0 327.3L73.2 327.6L73.5 328.7L73.8 329.2L74.0 329.0L74.2 328.7L74.5 328.3L74.8 328.1L75.0 328.4L75.2 328.3L75.5 328.1L75.8 328.8L76.0 329.0L76.2 328.0L76.5 327.8L76.8 328.3L77.0 327.9L77.2 327.7L77.5 328.5L77.8 328.8L78.0 329.0L78.2 329.5L78.5 329.1L78.8 328.6L79.0 328.5L79.2 328.3L79.5 328.5L79.8 328.8L80.0 328.7L80.2 329.0L80.5 329.8L80.8 329.9L81.0 329.7L81.2 329.6L81.5 329.7L81.8 329.8L82.0 329.9L82.2 329.8L82.5 329.2L82.8 328.7L83.0 328.6L83.2 329.0L83.5 329.8L83.8 329.9L84.0 329.4L84.2 329.2L84.5 329.2L84.8 328.9L85.0 328.9L85.2 328.9L85.5 328.8L85.8 329.2L86.0 329.4L86.2 329.0L86.5 328.6L86.8 329.1L87.0 329.6L87.2 329.5L87.5 329.9L87.8 329.8L88.0 329.1L88.2 329.0L88.5 329.8L88.8 330.0L89.0 329.2L89.2 329.2L89.5 329.7L89.8 330.0L90.0 330.0L90.2 329.5L90.5 329.0L90.8 329.2L91.0 329.6L91.2 328.8L91.5 328.1L91.8 328.6L92.0 329.4L92.2 329.7L92.5 329.3L92.8 329.1L93.0 329.6L93.2 329.7L93.5 329.5L93.8 329.5L94.0 329.3L94.2 328.9L94.5 328.9L94.8 328.7L95.0 328.7L95.2 328.9L95.5 328.8L95.8 329.2L96.0 329.4L96.2 328.8L96.5 328.4L96.8 328.6L97.0 329.0L97.2 329.2L97.5 329.2L97.8 329.0L98.0 328.7L98.2 328.3L98.5 328.2L98.8 328.6L99.0 328.7L99.2 328.6L99.5 329.0L99.8 328.4L100.0 327.5L100.2 327.6L100.5 328.0L100.8 329.0L101.0 329.4L101.2 328.5L101.5 328.1L101.8 328.1L102.0 328.3L102.2 328.6L102.5 328.4L102.8 328.1L103.0 328.1L103.2 327.8L103.5 327.9L103.8 328.4L104.0 328.0L104.2 327.2L104.5 327.0L104.8 327.1L105.0 327.5L105.2 327.6L105.5 327.1L105.8 327.3L106.0 327.6L106.2 327.6L106.5 327.7L106.8 327.8L107.0 327.6L107.2 327.5L107.5 327.6L107.8 327.3L108.0 326.6L108.2 326.8L108.5 326.7L108.8 326.2L109.0 325.7L109.2 325.5L109.5 325.8L109.8 326.1L110.0 326.1L110.2 326.0L110.5 326.5L110.8 326.5L111.0 325.9L111.2 325.5L111.5 325.3L111.8 325.2L112.0 325.4L112.2 325.6L112.5 325.4L112.8 325.0L113.0 325.0L113.2 325.2L113.5 325.8L113.8 326.3L114.0 325.9L114.2 325.0L114.5 324.3L114.8 324.0L115.0 324.3L115.2 324.9L115.5 324.8L115.8 324.7L116.0 324.6L116.2 325.0L116.5 325.2L116.8 324.6L117.0 324.1L117.2 324.3L117.5 324.4L117.8 323.9L118.0 323.3L118.2 323.1L118.5 323.4L118.8 324.5L119.0 324.9L119.2 324.2L119.5 324.1L119.8 323.8L120.0 323.2L120.2 323.2L120.5 323.2L120.8 323.5L121.0 323.6L121.2 322.9L121.5 323.0L121.8 323.1L122.0 322.8L122.2 323.0L122.5 323.2L122.8 323.0L123.0 322.9L123.2 322.4L123.5 322.0L123.8 322.9L124.0 323.5L124.2 323.0L124.5 322.2L124.8 321.3L125.0 321.1L125.2 321.0L125.5 321.1L125.8 321.2L126.0 320.7L126.2 320.1L126.5 319.6L126.8 319.8L127.0 319.8L127.2 319.2L127.5 319.2L127.8 319.2L128.0 318.1L128.2 317.1L128.5 317.0L128.8 317.4L129.0 317.0L129.2 315.3L129.5 313.5L129.8 312.4L130.0 311.0L130.2 308.7L130.5 305.9L130.8 301.2L131.0 294.4L131.2 288.2L131.5 284.7L131.8 284.9L132.0 288.8L132.2 295.2L132.5 300.9L132.8 305.1L133.0 308.3L133.2 310.2L133.5 311.1L133.8 312.0L134.0 313.6L134.2 315.5L134.5 316.6L134.8 316.8L135.0 316.9L135.2 316.8L135.5 317.0L135.8 317.2L136.0 317.0L136.2 317.2L136.5 317.7L136.8 317.7L137.0 317.7L137.2 318.1L137.5 318.5L137.8 318.7L138.0 318.6L138.2 318.4L138.5 318.5L138.8 318.4L139.0 318.2L139.2 318.5L139.5 319.0L139.8 319.3L140.0 318.9L140.2 318.1L140.5 318.1L140.8 318.4L141.0 318.5L141.2 318.4L141.5 318.5L141.8 318.9L142.0 318.6L142.2 318.4L142.5 319.1L142.8 319.1L143.0 318.7L143.2 318.6L143.5 318.6L143.8 318.7L144.0 318.4L144.2 318.0L144.5 318.0L144.8 318.0L145.0 318.3L145.2 318.5L145.5 318.2L145.8 317.3L146.0 316.7L146.2 317.1L146.5 317.5L146.8 318.1L147.0 318.7L147.2 318.3L147.5 317.9L147.8 317.8L148.0 317.8L148.2 317.6L148.5 317.4L148.8 317.6L149.0 318.1L149.2 318.2L149.5 318.1L149.8 317.8L150.0 317.6L150.2 317.7L150.5 317.9L150.8 318.1L151.0 317.7L151.2 317.1L151.5 317.4L151.8 317.9L152.0 317.5L152.2 317.5L152.5 318.0L152.8 318.1L153.0 317.6L153.2 317.6L153.5 318.1L153.8 317.8L154.0 317.3L154.2 316.7L154.5 316.1L154.8 316.1L155.0 316.8L155.2 316.9L155.5 316.4L155.8 315.8L156.0 315.6L156.2 315.7L156.5 315.9L156.8 316.6L157.0 317.4L157.2 317.6L157.5 316.8L157.8 315.7L158.0 314.7L158.2 314.0L158.5 314.7L158.8 315.5L159.0 315.9L159.2 315.8L159.5 315.6L159.8 315.4L160.0 315.5L160.2 315.3L160.5 314.4L160.8 313.8L161.0 314.0L161.2 314.8L161.5 315.0L161.8 314.2L162.0 313.4L162.2 313.3L162.5 313.2L162.8 313.0L163.0 312.9L163.2 312.7L163.5 312.4L163.8 312.3L164.0 311.8L164.2 311.1L164.5 310.6L164.8 310.2L165.0 309.8L165.2 308.9L165.5 307.9L165.8 306.5L166.0 305.0L166.2 303.8L166.5 301.8L166.8 299.6L167.0 296.3L167.2 291.5L167.5 286.1L167.8 277.9L168.0 262.7L168.2 238.1L168.5 209.3L168.8 192.1L169.0 199.9L169.2 226.7L169.5 254.5L169.8 273.2L170.0 284.0L170.2 290.6L170.5 294.9L170.8 297.9L171.0 300.5L171.2 303.1L171.5 305.1L171.8 306.2L172.0 307.3L172.2 309.1L172.5 310.4L172.8 310.4L173.0 310.7L173.2 310.8L173.5 310.6L173.8 311.2L174.0 312.2L174.2 312.8L174.5 312.7L174.8 312.5L175.0 312.9L175.2 313.2L175.5 313.3L175.8 313.2L176.0 313.2L176.2 313.7L176.5 314.7L176.8 315.3L177.0 315.0L177.2 314.9L177.5 315.3L177.8 315.6L178.0 315.9L178.2 315.6L178.5 315.2L178.8 315.2L179.0 315.4L179.2 315.5L179.5 315.3L179.8 314.7L180.0 314.4L180.2 314.5L180.5 314.7L180.8 315.4L181.0 315.5L181.2 315.4L181.5 316.1L181.8 316.5L182.0 316.7L182.2 317.2L182.5 317.1L182.8 316.4L183.0 316.6L183.2 316.9L183.5 316.9L183.8 316.9L184.0 316.4L184.2 316.1L184.5 316.2L184.8 316.3L185.0 316.4L185.2 316.1L185.5 316.4L185.8 317.1L186.0 317.3L186.2 316.9L186.5 316.4L186.8 316.5L187.0 317.0L187.2 317.2L187.5 317.4L187.8 317.8L188.0 317.7L188.2 317.6L188.5 317.8L188.8 317.9L189.0 318.0L189.2 318.3L189.5 318.3L189.8 318.1L190.0 318.1L190.2 318.5L190.5 318.8L190.8 318.8L191.0 318.7L191.2 318.7L191.5 318.8L191.8 318.9L192.0 318.3L192.2 317.9L192.5 318.7L192.8 318.7L193.0 318.2L193.2 318.2L193.5 318.8L193.8 319.6L194.0 319.2L194.2 318.5L194.5 318.8L194.8 319.3L195.0 319.5L195.2 318.6L195.5 318.1L195.8 318.7L196.0 319.1L196.2 318.7L196.5 318.5L196.8 319.5L197.0 319.9L197.2 319.4L197.5 319.6L197.8 320.1L198.0 320.6L198.2 320.4L198.5 320.0L198.8 320.4L199.0 320.2L199.2 320.0L199.5 320.1L199.8 319.6L200.0 319.7L200.2 320.6L200.5 320.4L200.8 320.0L201.0 320.0L201.2 319.6L201.5 319.5L201.8 319.9L202.0 320.2L202.2 320.7L202.5 321.0L202.8 320.8L203.0 321.0L203.2 320.9L203.5 320.6L203.8 320.6L204.0 320.8L204.2 321.3L204.5 321.5L204.8 320.9L205.0 320.6L205.2 320.8L205.5 321.1L205.8 321.4L206.0 321.3L206.2 321.2L206.5 321.8L206.8 321.9L207.0 321.7L207.2 321.9L207.5 321.7L207.8 321.6L208.0 321.6L208.2 321.5L208.5 321.5L208.8 322.1L209.0 322.8L209.2 322.9L209.5 322.6L209.8 322.7L210.0 322.5L210.2 322.5L210.5 322.6L210.8 323.0L211.0 323.3L211.2 322.5L211.5 322.0L211.8 322.4L212.0 322.3L212.2 321.4L212.5 321.2L212.8 322.2L213.0 322.9L213.2 322.9L213.5 323.1L213.8 323.1L214.0 322.8L214.2 322.5L214.5 322.1L214.8 322.2L215.0 322.7L215.2 322.4L215.5 321.9L215.8 322.1L216.0 322.1L216.2 322.0L216.5 322.3L216.8 321.9L217.0 321.4L217.2 321.9L217.5 322.5L217.8 322.1L218.0 322.3L218.2 322.8L218.5 322.5L218.8 321.9L219.0 322.0L219.2 322.5L219.5 322.6L219.8 322.1L220.0 322.0L220.2 322.8L220.5 323.1L220.8 322.6L221.0 322.3L221.2 322.5L221.5 322.7L221.8 322.5L222.0 322.1L222.2 322.2L222.5 322.2L222.8 322.0L223.0 322.3L223.2 322.4L223.5 322.4L223.8 322.2L224.0 321.9L224.2 322.2L224.5 322.7L224.8 322.9L225.0 322.7L225.2 321.9L225.5 321.7L225.8 322.3L226.0 323.1L226.2 323.5L226.5 323.0L226.8 322.4L227.0 322.4L227.2 322.0L227.5 322.2L227.8 323.3L228.0 323.2L228.2 322.9L228.5 323.2L228.8 323.3L229.0 323.2L229.2 322.8L229.5 322.0L229.8 321.9L230.0 323.0L230.2 323.4L230.5 322.9L230.8 322.6L231.0 322.3L231.2 322.4L231.5 322.9L231.8 323.0L232.0 322.7L232.2 322.7L232.5 322.8L232.8 322.8L233.0 322.3L233.2 321.9L233.5 322.5L233.8 322.9L234.0 322.2L234.2 321.9L234.5 322.3L234.8 322.4L235.0 321.7L235.2 321.0L235.5 320.9L235.8 320.6L236.0 320.4L236.2 320.5L236.5 320.2L236.8 320.3L237.0 320.3L237.2 318.9L237.5 317.2L237.8 315.6L238.0 314.4L238.2 313.7L238.5 313.3L238.8 313.3L239.0 313.9L239.2 314.7L239.5 315.3L239.8 316.0L240.0 317.2L240.2 318.7L240.5 319.8L240.8 320.7L241.0 321.0L241.2 321.0L241.5 320.9L241.8 321.2L242.0 322.2L242.2 322.4L242.5 321.5L242.8 321.2L243.0 321.2L243.2 320.9L243.5 321.2L243.8 322.0L244.0 321.9L244.2 321.8L244.5 321.9L244.8 321.7L245.0 321.6L245.2 321.5L245.5 321.4L245.8 321.6L246.0 321.8L246.2 322.1L246.5 322.2L246.8 322.0L247.0 321.6L247.2 321.2L247.5 320.7L247.8 320.5L248.0 321.0L248.2 321.0L248.5 320.6L248.8 320.6L249.0 320.2L249.2 320.0L249.5 319.9L249.8 319.2L250.0 318.4L250.2 318.3L250.5 317.5L250.8 315.5L251.0 313.3L251.2 310.8L251.5 308.6L251.8 306.3L252.0 303.0L252.2 299.8L252.5 298.2L252.8 297.9L253.0 297.9L253.2 299.5L253.5 302.6L253.8 305.6L254.0 308.2L254.2 310.5L254.5 312.4L254.8 314.3L255.0 316.1L255.2 317.5L255.5 318.7L255.8 319.4L256.0 319.8L256.2 319.8L256.5 319.4L256.8 319.3L257.0 319.9L257.2 320.3L257.5 320.5L257.8 320.7L258.0 320.5L258.2 320.6L258.5 321.2L258.8 321.3L259.0 321.3L259.2 321.5L259.5 321.2L259.8 320.9L260.0 321.5L260.2 321.8L260.5 321.3L260.8 321.3L261.0 321.4L261.2 320.6L261.5 319.5L261.8 318.9L262.0 317.5L262.2 315.6L262.5 314.2L262.8 313.0L263.0 311.6L263.2 310.8L263.5 310.7L263.8 310.5L264.0 311.3L264.2 313.4L264.5 315.3L264.8 316.6L265.0 317.7L265.2 319.3L265.5 320.8L265.8 321.4L266.0 321.4L266.2 321.7L266.5 321.9L266.8 321.8L267.0 322.5L267.2 323.3L267.5 323.2L267.8 323.3L268.0 324.0L268.2 324.5L268.5 324.3L268.8 323.8L269.0 324.1L269.2 324.4L269.5 324.1L269.8 324.1L270.0 324.9L270.2 325.1L270.5 323.9L270.8 323.1L271.0 323.4L271.2 324.0L271.5 324.7L271.8 325.1L272.0 324.9L272.2 324.7L272.5 324.8L272.8 324.7L273.0 324.8L273.2 325.4L273.5 326.3L273.8 325.9L274.0 324.9L274.2 324.7L274.5 324.6L274.8 324.5L275.0 324.6L275.2 325.1L275.5 325.5L275.8 325.2L276.0 324.6L276.2 324.3L276.5 324.4L276.8 324.7L277.0 325.1L277.2 325.1L277.5 324.9L277.8 324.9L278.0 324.8L278.2 324.0L278.5 323.3L278.8 323.5L279.0 324.6L279.2 325.1L279.5 324.9L279.8 324.7L280.0 324.5L280.2 324.4L280.5 324.8L280.8 325.5L281.0 325.6L281.2 325.4L281.5 325.6L281.8 326.0L282.0 326.0L282.2 326.1L282.5 326.7L282.8 326.7L283.0 326.7L283.2 327.2L283.5 327.1L283.8 326.8L284.0 326.5L284.2 326.1L284.5 325.7L284.8 325.9L285.0 326.3L285.2 326.3L285.5 326.5L285.8 326.4L286.0 326.2L286.2 326.6L286.5 327.0L286.8 327.5L287.0 327.8L287.2 327.6L287.5 327.2L287.8 327.0L288.0 327.2L288.2 327.1L288.5 326.9L288.8 326.9L289.0 327.1L289.2 327.2L289.5 327.2L289.8 326.9L290.0 326.9L290.2 327.0L290.5 326.5L290.8 326.9L291.0 327.1L291.2 326.2L291.5 326.4L291.8 326.9L292.0 327.1L292.2 327.3L292.5 326.8L292.8 327.4L293.0 328.1L293.2 327.6L293.5 327.2L293.8 326.9L294.0 326.8L294.2 326.8L294.5 326.6L294.8 326.7L295.0 327.0L295.2 326.5L295.5 326.4L295.8 326.4L296.0 326.4L296.2 326.9L296.5 326.6L296.8 325.9L297.0 325.9L297.2 325.8L297.5 325.7L297.8 325.7L298.0 325.7L298.2 325.6L298.5 325.2L298.8 324.8L299.0 324.3L299.2 323.3L299.5 321.9L299.8 320.4L300.0 319.3L300.2 318.7L300.5 318.4L300.8 318.1L301.0 317.5L301.2 317.1L301.5 317.5L301.8 318.6L302.0 320.0L302.2 321.6L302.5 322.5L302.8 322.7L303.0 323.7L303.2 325.0L303.5 325.3L303.8 325.6L304.0 326.0L304.2 325.9L304.5 325.7L304.8 325.5L305.0 325.5L305.2 326.0L305.5 325.9L305.8 325.8L306.0 326.2L306.2 326.6L306.5 326.7L306.8 326.2L307.0 325.9L307.2 326.0L307.5 326.1L307.8 326.6L308.0 326.9L308.2 327.2L308.5 327.6L308.8 327.5L309.0 327.1L309.2 326.9L309.5 326.9L309.8 327.3L310.0 327.2L310.2 326.7L310.5 327.1L310.8 327.4L311.0 327.4L311.2 327.0L311.5 326.2L311.8 326.5L312.0 327.4L312.2 327.1L312.5 326.5L312.8 326.7L313.0 326.5L313.2 325.7L313.5 325.4L313.8 325.9L314.0 326.8L314.2 327.0L314.5 327.0L314.8 327.2L315.0 326.9L315.2 326.3L315.5 326.3L315.8 326.4L316.0 326.3L316.2 326.6L316.5 326.9L316.8 326.7L317.0 326.4L317.2 327.0L317.5 327.6L317.8 326.8L318.0 326.3L318.2 327.0L318.5 327.5L318.8 327.2L319.0 327.0L319.2 327.2L319.5 326.8L319.8 326.4L320.0 326.7L320.2 327.1L320.5 327.5L320.8 327.5L321.0 327.4L321.2 327.5L321.5 327.5L321.8 327.2L322.0 326.3L322.2 326.2L322.5 326.6L322.8 326.3L323.0 326.2L323.2 326.2L323.5 325.9L323.8 325.9L324.0 325.4L324.2 324.5L324.5 324.8L324.8 325.0L325.0 323.8L325.2 322.8L325.5 322.7L325.8 322.1L326.0 320.9L326.2 320.5L326.5 320.7L326.8 321.0L327.0 321.4L327.2 321.7L327.5 322.1L327.8 322.5L328.0 323.0L328.2 323.6L328.5 324.4L328.8 324.9L329.0 325.5L329.2 326.4L329.5 326.4L329.8 326.3L330.0 326.9L330.2 327.1L330.5 327.2L330.8 327.4L331.0 327.5L331.2 327.4L331.5 327.3L331.8 327.8L332.0 327.9L332.2 327.1L332.5 327.3L332.8 327.6L333.0 327.0L333.2 327.3L333.5 328.2L333.8 328.4L334.0 328.6L334.2 328.4L334.5 328.0L334.8 328.1L335.0 328.4L335.2 328.5L335.5 328.2L335.8 328.0L336.0 328.2L336.2 328.6L336.5 328.3L336.8 327.5L337.0 327.5L337.2 327.8L337.5 327.7L337.8 327.5L338.0 327.5L338.2 327.8L338.5 328.3L338.8 328.5L339.0 328.7L339.2 328.9L339.5 329.2L339.8 329.6L340.0 329.3L340.2 328.5L340.5 327.6L340.8 327.0L341.0 327.7L341.2 328.8L341.5 328.9L341.8 328.6L342.0 328.9L342.2 328.9L342.5 328.2L342.8 327.7L343.0 328.0L343.2 328.6L343.5 328.8L343.8 328.5L344.0 328.4L344.2 328.9L344.5 329.3L344.8 329.3L345.0 329.5L345.2 329.4L345.5 328.7L345.8 328.0L346.0 328.3L346.2 329.3L346.5 329.5L346.8 329.0L347.0 328.8L347.2 328.9L347.5 328.9L347.8 328.8L348.0 329.1L348.2 329.8L348.5 329.5L348.8 328.7L349.0 328.4L349.2 328.8L349.5 329.5L349.8 329.6L350.0 329.3L350.2 329.2L350.5 328.9L350.8 329.0L351.0 329.7L351.2 330.2L351.5 330.2L351.8 329.5L352.0 329.3L352.2 329.6L352.5 329.2L352.8 328.6L353.0 328.8L353.2 329.3L353.5 329.5L353.8 329.6L354.0 330.0L354.2 330.1L354.5 329.7L354.8 329.4L355.0 329.4L355.2 329.7L355.5 329.8L355.8 329.6L356.0 329.3L356.2 328.8L356.5 328.2L356.8 328.3L357.0 328.8L357.2 329.0L357.5 328.8L357.8 328.3L358.0 328.0L358.2 327.9L358.5 327.1L358.8 326.0L359.0 325.5L359.2 325.1L359.5 324.6L359.8 324.8L360.0 324.9L360.2 324.9L360.5 325.2L360.8 325.0L361.0 325.0L361.2 325.3L361.5 325.7L361.8 326.5L362.0 327.4L362.2 328.2L362.5 328.5L362.8 328.5L363.0 328.3L363.2 328.2L363.5 328.6L363.8 329.1L364.0 329.7L364.2 330.1L364.5 330.5L364.8 330.6L365.0 330.4L365.2 330.2L365.5 330.2L365.8 330.5L366.0 330.4L366.2 330.1L366.5 330.7L366.8 331.3L367.0 330.6L367.2 329.9L367.5 329.6L367.8 329.7L368.0 330.4L368.2 330.6L368.5 330.8L368.8 331.6L369.0 331.5L369.2 330.7L369.5 330.7L369.8 330.9L370.0 330.8L370.2 330.7L370.5 330.8L370.8 331.2L371.0 331.1L371.2 331.0L371.5 331.2L371.8 331.2L372.0 330.9L372.2 331.1L372.5 331.4L372.8 331.1L373.0 330.4L373.2 330.1L373.5 330.0L373.8 330.1L374.0 330.5L374.2 330.3L374.5 329.8L374.8 330.3L375.0 330.9L375.2 330.6L375.5 330.5L375.8 330.8L376.0 330.3L376.2 329.7L376.5 329.9L376.8 330.5L377.0 331.1L377.2 331.1L377.5 330.5L377.8 329.7L378.0 329.6L378.2 329.6L378.5 329.4L378.8 329.2L379.0 329.6L379.2 329.9L379.5 329.7L379.8 329.3L380.0 328.6L380.2 328.1L380.5 328.5L380.8 329.2L381.0 329.1L381.2 328.6L381.5 328.6L381.8 328.5L382.0 328.6L382.2 328.3L382.5 328.0L382.8 327.9L383.0 327.6L383.2 327.1L383.5 327.3L383.8 327.9L384.0 328.3L384.2 328.3L384.5 328.7L384.8 329.2L385.0 329.0L385.2 329.1L385.5 330.0L385.8 330.5L386.0 329.8L386.2 329.2L386.5 329.6L386.8 330.4L387.0 330.8L387.2 330.9L387.5 330.5L387.8 330.6L388.0 331.0L388.2 331.3L388.5 331.4L388.8 331.3L389.0 330.8L389.2 330.2L389.5 330.3L389.8 330.5L390.0 331.0L390.2 331.8L390.5 332.1L390.8 331.5L391.0 331.0L391.2 331.0L391.5 331.4L391.8 331.9L392.0 331.9L392.2 331.6L392.5 331.0L392.8 330.4L393.0 330.5L393.2 331.0L393.5 331.4L393.8 331.5L394.0 331.1L394.2 331.5L394.5 331.9L394.8 331.3L395.0 330.9L395.2 331.1L395.5 331.1L395.8 331.3L396.0 332.0L396.2 331.9L396.5 331.1L396.8 331.1L397.0 331.4L397.2 331.2L397.5 331.1L397.8 331.2L398.0 331.3L398.2 330.9L398.5 330.7L398.8 330.7L399.0 330.6L399.2 330.7L399.5 330.8L399.8 330.6L400.0 330.4L400.2 330.2L400.5 329.8L400.8 329.7L401.0 330.0L401.2 330.3L401.5 330.2L401.8 330.3L402.0 330.9L402.2 330.9L402.5 330.9L402.8 331.6L403.0 331.7L403.2 331.6L403.5 331.9L403.8 331.6L404.0 331.8L404.2 332.1L404.5 331.6L404.8 331.6L405.0 331.8L405.2 331.4L405.5 331.5L405.8 332.3L406.0 332.6L406.2 331.8L406.5 331.6L406.8 332.0L407.0 331.6L407.2 331.3L407.5 331.7L407.8 331.9L408.0 332.1L408.2 332.5L408.5 332.4L408.8 332.2L409.0 331.7L409.2 331.3L409.5 331.5L409.8 331.7L410.0 331.6L410.2 331.5L410.5 331.7L410.8 332.6L411.0 332.8L411.2 332.1L411.5 331.8L411.8 332.0L412.0 332.3L412.2 332.2L412.5 331.8L412.8 331.7L413.0 331.6L413.2 331.5L413.5 331.7L413.8 331.7L414.0 331.9L414.2 332.2L414.5 332.3L414.8 332.2L415.0 332.0L415.2 331.8L415.5 331.8L415.8 331.9L416.0 331.9L416.2 332.1L416.5 331.8L416.8 331.3L417.0 331.2L417.2 331.5L417.5 331.5L417.8 330.9L418.0 330.5L418.2 331.0L418.5 331.5L418.8 331.1L419.0 330.8L419.2 330.4L419.5 329.9L419.8 330.2L420.0 330.5L420.2 330.5L420.5 330.3L420.8 330.0L421.0 329.7L421.2 329.7L421.5 330.2L421.8 330.7L422.0 330.5L422.2 330.1L422.5 329.9L422.8 330.3L423.0 330.9L423.2 330.5L423.5 330.5L423.8 331.0L424.0 331.7L424.2 331.8L424.5 331.3L424.8 331.7L425.0 332.1L425.2 331.6L425.5 331.7L425.8 332.5L426.0 332.7L426.2 331.8L426.5 331.6L426.8 332.6L427.0 333.0L427.2 332.0L427.5 331.6L427.8 332.4L428.0 332.7L428.2 332.7L428.5 332.5L428.8 332.1L429.0 332.4L429.2 333.1L429.5 332.8L429.8 331.6L430.0 331.9L430.2 332.8L430.5 332.3L430.8 331.8L431.0 332.1L431.2 332.4L431.5 332.3L431.8 332.2L432.0 332.1L432.2 332.3L432.5 332.3L432.8 332.2L433.0 332.2L433.2 332.6L433.5 333.1L433.8 332.9L434.0 332.7L434.2 332.8L434.5 333.0L434.8 333.2L435.0 333.3L435.2 333.7L435.5 333.5L435.8 332.8L436.0 332.6L436.2 333.0L436.5 333.0L436.8 332.4L437.0 331.7L437.2 331.7L437.5 332.6L437.8 333.2L438.0 332.9L438.2 332.5L438.5 332.7L438.8 332.7L439.0 332.7L439.2 332.7L439.5 332.2L439.8 331.7L440.0 331.4L440.2 331.4L440.5 331.7L440.8 332.3L441.0 332.7L441.2 332.8L441.5 332.6L441.8 332.2L442.0 332.2L442.2 332.3L442.5 332.5L442.8 332.3L443.0 331.9L443.2 332.0L443.5 332.1L443.8 332.2L444.0 332.7L444.2 332.8L444.5 332.1L444.8 331.3L445.0 331.0L445.2 331.4L445.5 331.3L445.8 331.0L446.0 331.7L446.2 332.0L446.5 331.5L446.8 331.3L447.0 331.4L447.2 331.5L447.5 331.2L447.8 331.6L448.0 332.4L448.2 332.1L448.5 331.7L448.8 331.3L449.0 331.0L449.2 331.3L449.5 331.4L449.8 331.2L450.0 331.6L450.2 332.2L450.5 331.7L450.8 330.7L451.0 330.3L451.2 330.6L451.5 331.5L451.8 331.8L452.0 331.4L452.2 330.7L452.5 330.5L452.8 330.9L453.0 331.0L453.2 330.8L453.5 331.1L453.8 331.4L454.0 331.1L454.2 330.3L454.5 330.0L454.8 330.6L455.0 331.1L455.2 331.0L455.5 330.8L455.8 331.0L456.0 331.3L456.2 331.4L456.5 331.1L456.8 330.8L457.0 330.9L457.2 331.1L457.5 330.7L457.8 330.6L458.0 331.2L458.2 331.9L458.5 332.0L458.8 332.0L459.0 331.7L459.2 331.1L459.5 330.8L459.8 331.3L460.0 332.1L460.2 332.2L460.5 332.1L460.8 332.1L461.0 331.7L461.2 331.6L461.5 331.8L461.8 332.1L462.0 332.2L462.2 332.1L462.5 331.8L462.8 331.5L463.0 331.4L463.2 331.6L463.5 331.7L463.8 331.2L464.0 331.9L464.2 332.8L464.5 332.1L464.8 331.5L465.0 332.0L465.2 332.5L465.5 332.4L465.8 332.3L466.0 332.2L466.2 332.6L466.5 333.3L466.8 332.7L467.0 331.9L467.2 332.0L467.5 332.4L467.8 332.6L468.0 332.7L468.2 332.2L468.5 331.9L468.8 332.2L469.0 332.3L469.2 331.9L469.5 331.6L469.8 331.8L470.0 332.0L470.2 332.0L470.5 331.9L470.8 332.3L471.0 332.4L471.2 332.0L471.5 331.9L471.8 332.3L472.0 332.3L472.2 331.7L472.5 331.7L472.8 331.8L473.0 332.3L473.2 332.8L473.5 332.6L473.8 332.4L474.0 332.8L474.2 333.5L474.5 333.7L474.8 333.1L475.0 332.2L475.2 332.2L475.5 332.9L475.8 332.8L476.0 332.6L476.2 332.5L476.5 332.4L476.8 332.8L477.0 333.0L477.2 332.8L477.5 332.6L477.8 332.6L478.0 332.7L478.2 333.1L478.5 333.5L478.8 333.3L479.0 333.1L479.2 332.4L479.5 331.7L479.8 332.2L480.0 332.5L480.2 332.2L480.5 331.8L480.8 331.3L481.0 331.5L481.2 332.1L481.5 332.1L481.8 331.2L482.0 330.9L482.2 331.2L482.5 331.2L482.8 331.4L483.0 330.9L483.2 330.4L483.5 331.2L483.8 331.3L484.0 330.8L484.2 331.2L484.5 331.6L484.8 331.7L485.0 331.3L485.2 331.0L485.5 331.9L485.8 332.8L486.0 333.5L486.2 333.5L486.5 332.9L486.8 332.4L487.0 332.2L487.2 332.2L487.5 332.2L487.8 331.8L488.0 331.6L488.2 332.2L488.5 333.2L488.8 333.9L489.0 333.4L489.2 332.8L489.5 332.6L489.8 332.2L490.0 331.8L490.2 332.1L490.5 333.0L490.8 333.0L491.0 332.3L491.2 332.6L491.5 333.2L491.8 333.2L492.0 332.8L492.2 332.3L492.5 332.3L492.8 332.8L493.0 332.9L493.2 332.3L493.5 332.3L493.8 332.7L494.0 332.8L494.2 333.0L494.5 333.2L494.8 333.4L495.0 333.7L495.2 333.4L495.5 332.9L495.8 332.2L496.0 332.2L496.2 333.0L496.5 333.6L496.8 333.8L497.0 333.8L497.2 333.1L497.5 332.8L497.8 332.9L498.0 332.6L498.2 332.2L498.5 332.1L498.8 332.3L499.0 332.2L499.2 332.0L499.5 332.1L499.8 332.2L500.0 332.2L500.2 332.1L500.5 331.7L500.8 331.9L501.0 332.4L501.2 332.1L501.5 331.9L501.8 331.5L502.0 331.1L502.2 331.8L502.5 332.1L502.8 331.8L503.0 331.9L503.2 331.6L503.5 331.4L503.8 331.6L504.0 332.1L504.2 332.4L504.5 331.9L504.8 332.1L505.0 332.0L505.2 330.9L505.5 330.8L505.8 331.6L506.0 331.8L506.2 332.0L506.5 332.2L506.8 331.6L507.0 330.7L507.2 330.4L507.5 331.0L507.8 331.4L508.0 331.6L508.2 331.5L508.5 331.4L508.8 332.2L509.0 332.5L509.2 331.8L509.5 331.1L509.8 331.0L510.0 331.1L510.2 331.0L510.5 331.0L510.8 331.4L511.0 331.7L511.2 331.5L511.5 331.6L511.8 331.9L512.0 331.2L512.2 330.3L512.5 330.7L512.8 331.5L513.0 331.8L513.2 331.5L513.5 331.2L513.8 331.4L514.0 331.6L514.2 331.4L514.5 331.1L514.8 331.3L515.0 331.6L515.2 331.2L515.5 331.0L515.8 331.4L516.0 331.6L516.2 331.7L516.5 332.1L516.8 332.4L517.0 332.2L517.2 331.6L517.5 331.3L517.8 331.5L518.0 332.2L518.2 332.5L518.5 332.3L518.8 331.5L519.0 331.2L519.2 332.0L519.5 332.2L519.8 331.9L520.0 332.0L520.2 332.2L520.5 331.9L520.8 331.6L521.0 331.9L521.2 331.8L521.5 332.0L521.8 332.7L522.0 332.6L522.2 331.6L522.5 331.2L522.8 331.8L523.0 332.2L523.2 331.8L523.5 331.3L523.8 331.2L524.0 331.4L524.2 332.0L524.5 332.6L524.8 332.5L525.0 332.0L525.2 332.1L525.5 332.3L525.8 332.0L526.0 332.4L526.2 333.0L526.5 332.8L526.8 332.5L527.0 332.2L527.2 331.8L527.5 331.5L527.8 332.1L528.0 333.1L528.2 333.5L528.5 333.3L528.8 332.8L529.0 332.3L529.2 332.0L529.5 332.2L529.8 332.4L530.0 332.3L530.2 332.3L530.5 331.8L530.8 331.2L531.0 331.3L531.2 331.2L531.5 331.7L531.8 332.5L532.0 332.6L532.2 332.7L532.5 332.9" fill="none" stroke="#ff0000" stroke-width="3.0" stroke-linejoin="round"/>
<line x1="49.8" y1="7.1" x2="533.3" y2="7.1" stroke="#666" stroke-width="1.6"/>
<line x1="49.8" y1="358.9" x2="533.3" y2="358.9" stroke="#5e5e5e" stroke-width="1.7"/>
<line x1="532.6" y1="6.3" x2="532.6" y2="363.8" stroke="#555" stroke-width="1.5"/>
<line x1="50.6" y1="6.2" x2="50.6" y2="363.8" stroke="#252525" stroke-width="1.4"/>
<g stroke="#333" stroke-width="1.4"><line x1="50.60" y1="358.9" x2="50.60" y2="363.8"/><line x1="110.88" y1="358.9" x2="110.88" y2="363.8"/><line x1="171.15" y1="358.9" x2="171.15" y2="363.8"/><line x1="231.42" y1="358.9" x2="231.42" y2="363.8"/><line x1="291.70" y1="358.9" x2="291.70" y2="363.8"/><line x1="351.98" y1="358.9" x2="351.98" y2="363.8"/><line x1="412.25" y1="358.9" x2="412.25" y2="363.8"/><line x1="472.53" y1="358.9" x2="472.53" y2="363.8"/><line x1="532.80" y1="358.9" x2="532.80" y2="363.8"/></g>
<g style="font-family:'Liberation Sans',Arial,sans-serif;font-weight:bold;font-size:17px" fill="#000"><text x="51.00" y="380.8" text-anchor="middle">10</text><text x="111.28" y="380.8" text-anchor="middle">20</text><text x="171.55" y="380.8" text-anchor="middle">30</text><text x="231.82" y="380.8" text-anchor="middle">40</text><text x="292.10" y="380.8" text-anchor="middle">50</text><text x="352.38" y="380.8" text-anchor="middle">60</text><text x="412.65" y="380.8" text-anchor="middle">70</text><text x="472.93" y="380.8" text-anchor="middle">80</text><text x="533.20" y="380.8" text-anchor="middle">90</text></g>
<text x="296.1" y="418.8" text-anchor="middle" style="font-family:'Liberation Sans',Arial,sans-serif;font-weight:bold;font-size:18px" fill="#000">2-Theta(degrees)</text>
<text transform="translate(24.9,196) rotate(-90)" x="0" y="0" text-anchor="middle" style="font-family:'Liberation Sans',Arial,sans-serif;font-weight:bold;font-size:20.3px" fill="#000">Intensity (a.u)</text>
<line x1="181.35" y1="58.6" x2="215.25" y2="58.6" stroke="#0000ff" stroke-width="3.1" stroke-linecap="round"/>
<text x="219.0" y="63.9" style="font-family:'Liberation Sans',Arial,sans-serif;font-weight:bold;font-size:13.85px" fill="#000">Biogenic SeNPs</text>
<line x1="193.0" y1="217.9" x2="226.6" y2="217.9" stroke="#ff0000" stroke-width="3.3" stroke-linecap="round"/>
<text x="230.6" y="222.9" style="font-family:'Liberation Sans',Arial,sans-serif;font-weight:bold;font-size:13.95px" fill="#000">SeNP@PVP_Nystatin nanocomposite</text>
<g style="font-family:'Liberation Sans',Arial,sans-serif;font-weight:bold" fill="#000" stroke="#000" stroke-width="0.25"><text transform="translate(133.40,84.05) rotate(-90)" x="0" y="2.96" text-anchor="middle" font-size="11.4">(100)</text><text transform="translate(177.85,25.85) rotate(-90)" x="0" y="3.02" text-anchor="middle" font-size="11.6">(101)</text><text transform="translate(241.05,133.90) rotate(-90)" x="0" y="3.09" text-anchor="middle" font-size="11.9">(110)</text><text transform="translate(255.05,121.70) rotate(-90)" x="0" y="3.07" text-anchor="middle" font-size="11.8">(102)</text><text transform="translate(268.50,135.80) rotate(-90)" x="0" y="3.64" text-anchor="middle" font-size="14.0">(111)</text><text transform="translate(303.30,134.65) rotate(-90)" x="0" y="3.12" text-anchor="middle" font-size="12.0">(201)</text><text transform="translate(328.90,140.40) rotate(-90)" x="0" y="3.07" text-anchor="middle" font-size="11.8">(112)</text><text transform="translate(361.20,142.65) rotate(-90)" x="0" y="3.04" text-anchor="middle" font-size="11.7">(103)</text><text transform="translate(386.90,144.90) rotate(-90)" x="0" y="3.04" text-anchor="middle" font-size="11.7">(210)</text><text transform="translate(422.35,148.20) rotate(-90)" x="0" y="3.04" text-anchor="middle" font-size="11.7">(113)</text><text transform="translate(133.45,265.50) rotate(-90)" x="0" y="2.91" text-anchor="middle" font-size="11.2">(100)</text><text transform="translate(167.90,177.15) rotate(-90)" x="0" y="3.02" text-anchor="middle" font-size="11.6">(101)</text><text transform="translate(239.35,294.90) rotate(-90)" x="0" y="3.02" text-anchor="middle" font-size="11.6">(110)</text><text transform="translate(251.55,281.50) rotate(-90)" x="0" y="3.02" text-anchor="middle" font-size="11.6">(102)</text><text transform="translate(265.85,292.60) rotate(-90)" x="0" y="3.30" text-anchor="middle" font-size="12.7">(111)</text><text transform="translate(301.90,297.60) rotate(-90)" x="0" y="2.86" text-anchor="middle" font-size="11.0">(201)</text><text transform="translate(327.00,304.00) rotate(-90)" x="0" y="2.96" text-anchor="middle" font-size="11.4">(112)</text><text transform="translate(361.80,308.55) rotate(-90)" x="0" y="2.94" text-anchor="middle" font-size="11.3">(103)</text><text transform="translate(383.05,310.35) rotate(-90)" x="0" y="2.86" text-anchor="middle" font-size="11.0">(210)</text><text transform="translate(418.35,313.25) rotate(-90)" x="0" y="2.86" text-anchor="middle" font-size="11.0">(113)</text></g>
</svg></body></html>
